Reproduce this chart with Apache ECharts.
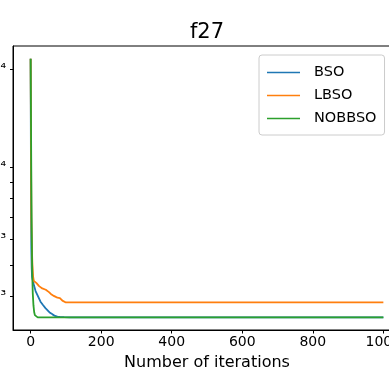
<!DOCTYPE html>
<html><head><meta charset="utf-8">
<script src="https://cdn.jsdelivr.net/npm/echarts@6/dist/echarts.min.js"></script>
<style>html,body{margin:0;padding:0;background:#fff}#c{width:389px;height:389px}</style>
</head><body><div id="c"></div>
<script>
const titleText = 'f27';
const xAxisName = 'Number of iterations';
const seriesNames = ['BSO', 'LBSO', 'NOBBSO'];
const seriesColors = ['#1f77b4', '#ff7f0e', '#2ca02c'];

const bsoIter   = [0, 1, 2, 3, 4, 7, 10, 14, 21, 28, 35, 42, 47, 55, 62, 69, 76, 83, 95, 110, 150, 1000];
const bsoValues = [21500, 9000, 5600, 4900, 4590, 4430, 4300, 4150, 4000, 3850, 3760, 3680, 3630, 3560, 3520, 3482, 3465, 3455, 3450, 3447, 3445, 3445];

const lbsoIter   = [0, 1, 2, 4, 5, 7, 9, 12, 16, 20, 24, 28, 33, 38, 43, 47, 52, 58, 64, 70, 76, 83, 90, 95, 100, 1000];
const lbsoValues = [21500, 12000, 7000, 5400, 5000, 4600, 4460, 4420, 4400, 4350, 4300, 4290, 4230, 4200, 4190, 4180, 4120, 4060, 4020, 3990, 3960, 3950, 3880, 3850, 3830, 3830];

const nobbsoIter   = [0, 1, 2, 3, 4, 5, 6, 8, 10, 12, 15, 20, 1000];
const nobbsoValues = [21500, 14000, 9000, 6500, 5200, 4500, 4100, 3750, 3580, 3500, 3460, 3445, 3445];

const xTickValues = [0, 200, 400, 600, 800, 1000];
const yTickValues = [4000, 5000, 6000, 7000, 8000, 9000, 10000, 20000];
const yLabelValues = [4000, 6000, 10000, 20000];
const yLabelTexts = ['4×10³', '6×10³', '10⁴', '2×10⁴'];

const iters = [bsoIter, lbsoIter, nobbsoIter];
const vals = [bsoValues, lbsoValues, nobbsoValues];

const chart = echarts.init(document.getElementById('c'), null, {renderer: 'canvas'});
const font = 'DejaVu Sans';
chart.setOption({
  animation: false,
  backgroundColor: '#ffffff',
  textStyle: {fontFamily: font},
  title: {
    text: titleText, left: 207, top: 22, padding: 0, textAlign: 'center',
    textStyle: {fontFamily: font, fontSize: 21, fontWeight: 'normal', color: '#000'}
  },
  legend: {
    orient: 'vertical', left: 259, top: 55, icon: 'rect',
    padding: [10, 8, 9, 8], itemWidth: 33, itemHeight: 1.5, itemGap: 8,
    backgroundColor: 'rgba(255,255,255,0.8)', borderColor: '#cccccc', borderWidth: 1, borderRadius: 3,
    textStyle: {fontFamily: font, fontSize: 14.5, color: '#000', padding: [0, 0, 0, 9]},
    data: seriesNames
  },
  grid: {left: 13, top: 46, width: 388, height: 284, show: true, borderColor: '#000', borderWidth: 1,
         containLabel: false, outerBoundsMode: 'none'},
  xAxis: {
    type: 'value', min: -50, max: 1050,
    name: xAxisName, nameLocation: 'middle', nameGap: 25,
    nameTextStyle: {fontFamily: font, fontSize: 16, color: '#000'},
    axisLine: {show: true, onZero: false, lineStyle: {color: '#000', width: 1}},
    axisTick: {show: true, length: 3.5, lineStyle: {color: '#000'}, customValues: xTickValues},
    axisLabel: {show: true, fontFamily: font, fontSize: 14, color: '#000', margin: 5, customValues: xTickValues,
                formatter: function (v) { return String(v); }},
    splitLine: {show: false}
  },
  yAxis: {
    type: 'log', min: 3151, max: 23550,
    axisLine: {show: true, onZero: false, lineStyle: {color: '#000', width: 1}},
    axisTick: {show: true, length: 3, lineStyle: {color: '#000'}, customValues: yTickValues},
    axisLabel: {
      show: true, fontFamily: font, fontSize: 14, color: '#000', margin: 7,
      customValues: yLabelValues,
      formatter: function (v) {
        for (let i = 0; i < yLabelValues.length; i++) {
          if (Math.abs(v - yLabelValues[i]) / yLabelValues[i] < 1e-6) return yLabelTexts[i];
        }
        return '';
      }
    },
    splitLine: {show: false}
  },
  series: seriesNames.map(function (name, k) {
    return {
      name: name, type: 'line', symbol: 'none', showSymbol: false,
      color: seriesColors[k],
      lineStyle: {width: 1.8, color: seriesColors[k]},
      data: iters[k].map(function (x, i) { return [x, vals[k][i]]; }),
      z: 2 + k
    };
  })
});
</script>
</body></html>
